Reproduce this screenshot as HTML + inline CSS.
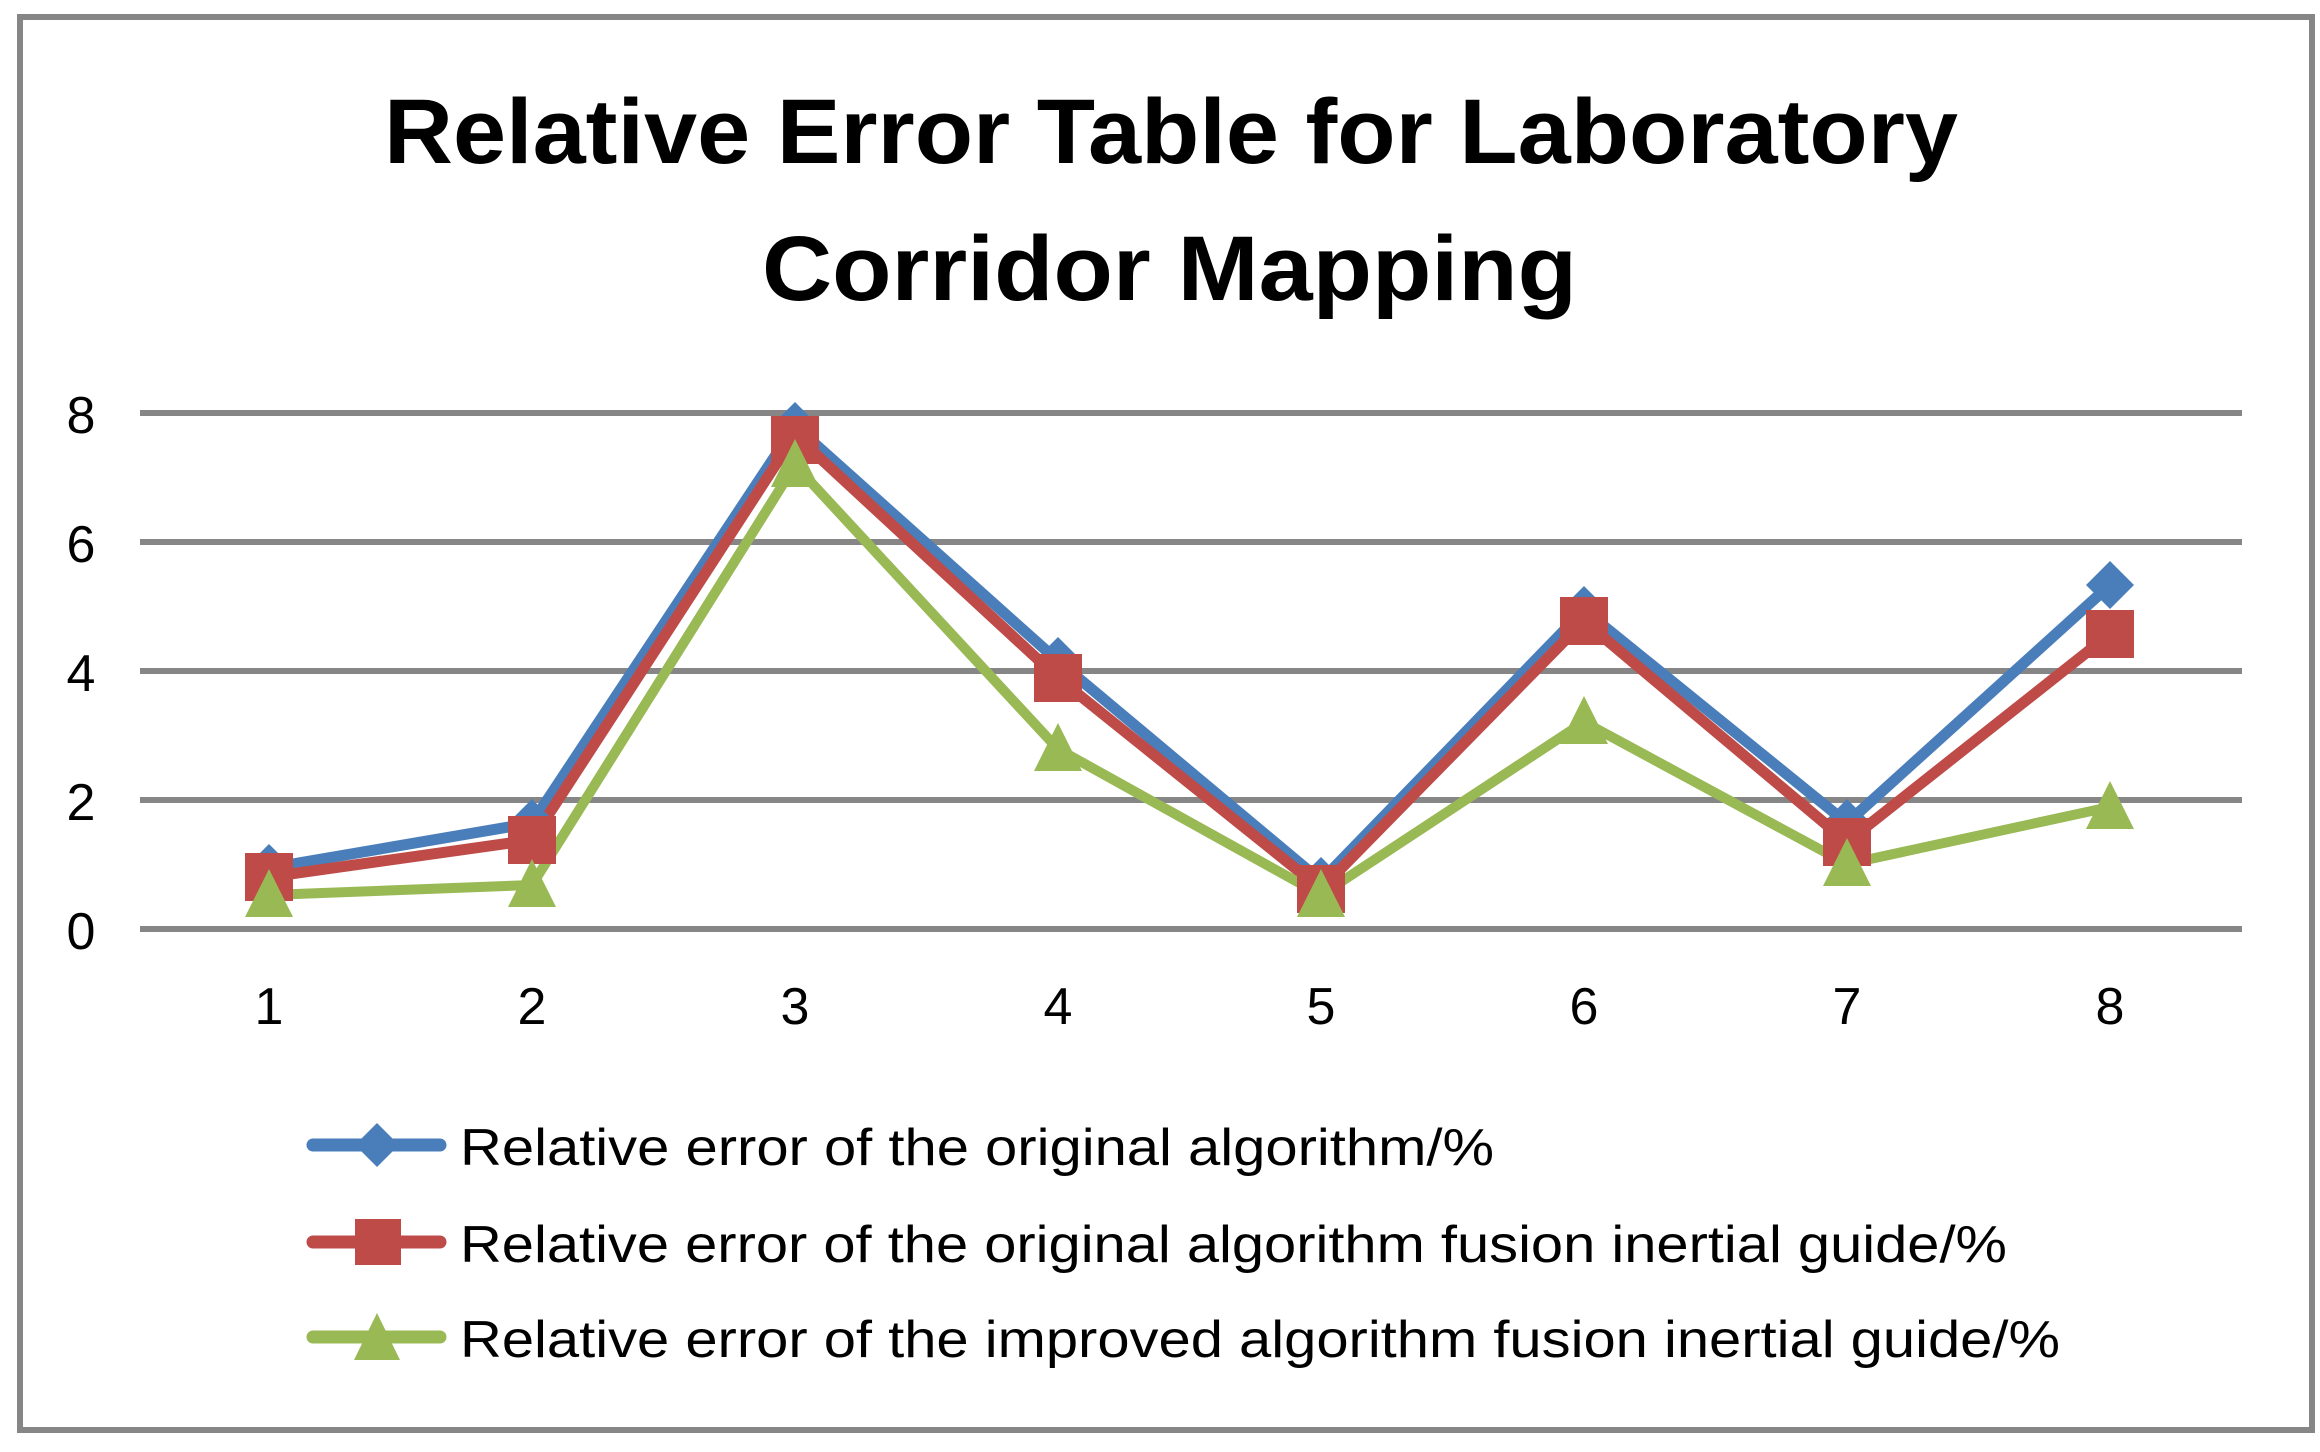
<!DOCTYPE html>
<html><head><meta charset="utf-8"><style>html,body{margin:0;padding:0;background:#fff}svg{display:block}</style></head>
<body>
<svg width="2320" height="1452" viewBox="0 0 2320 1452" xmlns="http://www.w3.org/2000/svg">
<rect x="0" y="0" width="2320" height="1452" fill="#fff"/>
<rect x="20" y="17" width="2292" height="1413" fill="#fff" stroke="#868686" stroke-width="6"/>
<g font-family="'Liberation Sans', sans-serif" font-weight="bold" fill="#000" font-size="92">
<text x="384" y="163" textLength="1574" lengthAdjust="spacingAndGlyphs">Relative Error Table for Laboratory</text>
<text x="762" y="300" textLength="815" lengthAdjust="spacingAndGlyphs">Corridor Mapping</text>
</g>
<g stroke="#868686" stroke-width="6">
<line x1="140" y1="413" x2="2242" y2="413"/>
<line x1="140" y1="542" x2="2242" y2="542"/>
<line x1="140" y1="671" x2="2242" y2="671"/>
<line x1="140" y1="800" x2="2242" y2="800"/>
<line x1="140" y1="929" x2="2242" y2="929"/>
</g>
<g font-family="'Liberation Sans', sans-serif" font-size="52" fill="#000" text-anchor="middle">
<text x="81" y="433">8</text><text x="81" y="562">6</text><text x="81" y="691">4</text><text x="81" y="820">2</text><text x="81" y="949">0</text>
<text x="269" y="1024">1</text><text x="532" y="1024">2</text><text x="795" y="1024">3</text><text x="1058" y="1024">4</text>
<text x="1321" y="1024">5</text><text x="1584" y="1024">6</text><text x="1847" y="1024">7</text><text x="2110" y="1024">8</text>
</g>
<!-- blue: 0.95,1.65,7.8,4.15,0.75,4.95,1.65,5.33 -->
<g fill="none" stroke-linejoin="round">
<polyline stroke="#4a7ebb" stroke-width="11" points="269,868 532,823 795,426 1058,661 1321,881 1584,610 1847,823 2110,585"/>
<polyline stroke="#be4b48" stroke-width="11" points="269,877 532,840 795,435 1058,678 1321,889 1584,621 1847,842 2110,634"/>
<polyline stroke="#98b954" stroke-width="10" points="269,895 532,885 795,465 1058,749 1321,895 1584,722 1847,864 2110,807"/>
</g>
<g fill="#4a7ebb">
<polygon points="269,844 293,868 269,892 245,868"/><polygon points="532,799 556,823 532,847 508,823"/>
<polygon points="795,402 819,426 795,450 771,426"/><polygon points="1058,637 1082,661 1058,685 1034,661"/>
<polygon points="1321,857 1345,881 1321,905 1297,881"/><polygon points="1584,586 1608,610 1584,634 1560,610"/>
<polygon points="1847,799 1871,823 1847,847 1823,823"/><polygon points="2110,561 2134,585 2110,609 2086,585"/>
</g>
<g fill="#be4b48">
<rect x="245" y="853" width="48" height="48"/><rect x="508" y="816" width="48" height="48"/>
<rect x="771" y="416" width="48" height="48"/><rect x="1034" y="654" width="48" height="48"/>
<rect x="1297" y="865" width="48" height="48"/><rect x="1560" y="597" width="48" height="48"/>
<rect x="1823" y="818" width="48" height="48"/><rect x="2086" y="610" width="48" height="48"/>
</g>
<g fill="#98b954">
<polygon points="269,869 293,917 245,917"/><polygon points="532,859 556,907 508,907"/>
<polygon points="795,439 819,487 771,487"/><polygon points="1058,723 1082,771 1034,771"/>
<polygon points="1321,869 1345,917 1297,917"/><polygon points="1584,696 1608,744 1560,744"/>
<polygon points="1847,838 1871,886 1823,886"/><polygon points="2110,781 2134,829 2086,829"/>
</g>
<!-- legend -->
<line x1="313" y1="1145" x2="440" y2="1145" stroke="#4a7ebb" stroke-width="13" stroke-linecap="round"/>
<polygon points="377,1123 399,1145 377,1167 355,1145" fill="#4a7ebb"/>
<line x1="313" y1="1242" x2="440" y2="1242" stroke="#be4b48" stroke-width="13" stroke-linecap="round"/>
<rect x="355" y="1219" width="46" height="46" fill="#be4b48"/>
<line x1="313" y1="1337" x2="440" y2="1337" stroke="#98b954" stroke-width="13" stroke-linecap="round"/>
<polygon points="377,1313 400,1360 354,1360" fill="#98b954"/>
<g font-family="'Liberation Sans', sans-serif" font-size="52" fill="#000">
<text x="460" y="1165" textLength="1034" lengthAdjust="spacingAndGlyphs">Relative error of the original algorithm/%</text>
<text x="460" y="1262" textLength="1547" lengthAdjust="spacingAndGlyphs">Relative error of the original algorithm fusion inertial guide/%</text>
<text x="460" y="1357" textLength="1600" lengthAdjust="spacingAndGlyphs">Relative error of the improved algorithm fusion inertial guide/%</text>
</g>
</svg>
</body></html>
